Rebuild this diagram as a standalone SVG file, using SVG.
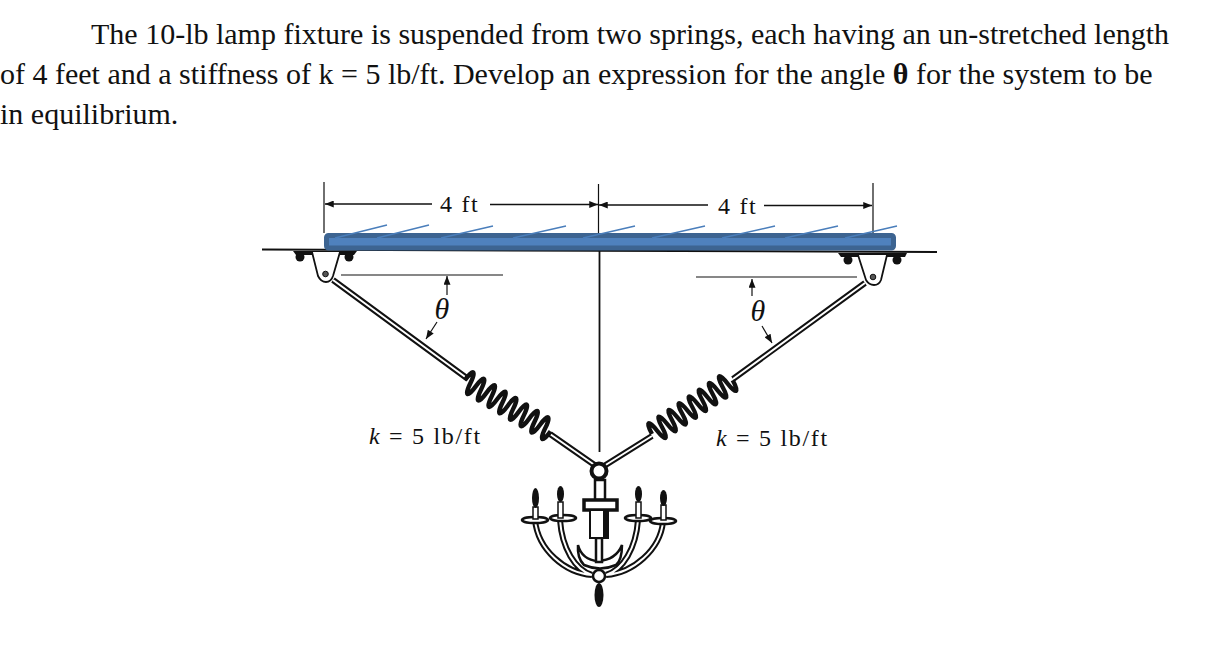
<svg xmlns="http://www.w3.org/2000/svg" xmlns:xlink="http://www.w3.org/1999/xlink" width="1210" height="646" viewBox="0 0 1210 646">
<style>
.p{font:30px "Liberation Serif",serif;fill:#111}
.l{font:24px "Liberation Serif",serif;fill:#111;letter-spacing:1.7px}
.t{font:italic 30px "Liberation Serif",serif;fill:#111}
.i{font-style:italic}
.k{stroke:#111;fill:none}
.h{stroke:#4a7ebb;stroke-width:1.5;fill:none}
.r{stroke:#111;stroke-width:6;fill:none}
.w{stroke:#fff;stroke-width:2;fill:none}
.s{stroke:#111;stroke-width:4.200;fill:none}
</style>
<defs>
<marker id="a" viewBox="0 0 10 8" refX="10" refY="4" markerWidth="11" markerHeight="7" markerUnits="userSpaceOnUse" orient="auto"><path d="M0 0L10 4L0 8z" fill="#111"/></marker>
<path id="sp" d="M0,0c1,-11 5,-11 6,0c1,11 5,11 6,0c1,-11 5,-11 6,0c1,11 5,11 6,0c1,-11 5,-11 6,0c1,11 5,11 6,0c1,-11 5,-11 6,0c1,11 5,11 6,0c1,-11 5,-11 6,0c1,11 5,11 6,0c1,-11 5,-11 6,0c1,11 5,11 6,0c1,-11 5,-11 6,0c1,11 5,11 6,0c1,-11 5,-11 6,0c1,11 5,11 6,0" class="s"/>
</defs>
<g id="statement">
<text class="p" x="91" y="44">The 10-lb lamp fixture is suspended from two springs, each having an un-stretched length</text>
<text class="p" x="0" y="84">of 4 feet and a stiffness of k = 5 lb/ft. Develop an expression for the angle <tspan font-weight="bold">θ</tspan> for the system to be</text>
<text class="p" x="0" y="124">in equilibrium.</text>
</g>
<g id="connectors">
<path class="k" stroke-width="2" d="M262 249.5L937 252"/>
<path class="k" stroke-width="1.2" d="M324 182V233M598.500 184V233M873 183V235"/>
<path class="k" stroke-width="1.8" d="M599.500 250V452"/>
<path class="k" stroke-width="1.4" marker-end="url(#a)" d="M432 204H325"/>
<path class="k" stroke-width="1.4" marker-end="url(#a)" d="M490 204.500H598"/>
<path class="k" stroke-width="1.4" marker-end="url(#a)" d="M708 205H599"/>
<path class="k" stroke-width="1.4" marker-end="url(#a)" d="M764 205.500H872"/>
<path class="k" stroke-width="1.2" d="M341 275H503M696 277H857"/>
<path class="k" stroke-width="1.2" marker-end="url(#a)" d="M447 295V276"/>
<path class="k" stroke-width="1.2" marker-end="url(#a)" d="M752 296V279"/>
<path class="k" stroke-width="1.2" marker-end="url(#a)" d="M437 322L426 339"/>
<path class="k" stroke-width="1.2" marker-end="url(#a)" d="M762 326L772 343"/>
<path class="r" d="M333 280L468 379M865 283L733 379M550 434L596 466M652 436L604 466"/>
<path class="w" d="M333 280L468 379M865 283L733 379M550 434L596 466M652 436L604 466"/>
<use xlink:href="#sp" href="#sp" transform="translate(465,380) rotate(31) scale(1.04,1.250)"/>
<use xlink:href="#sp" href="#sp" transform="translate(652,434) rotate(-33.700) scale(1.01,1.250)"/>
</g>
<g id="beam">
<rect x="326.500" y="235.500" width="567" height="12.500" rx="2" fill="#4f81bd" stroke="#3d6491" stroke-width="5"/>
<path class="h" d="M335 238L387 225M377 238L429 225M441 238L493 226M513 238L566 226M583 238L635 226M652 238L705 226M722 238L775 226M785 238L838 226M845 238L897 226"/>
</g>
<g id="left-support">
<path d="M293 251H357L354 255H296z" fill="#111"/>
<circle cx="300" cy="257" r="4.500" fill="#111"/><circle cx="349" cy="257" r="4.500" fill="#111"/>
<path d="M312 252L318 276Q321 282 326 282Q331 282 333 276L340 252" fill="#fff" stroke="#111" stroke-width="1.800"/>
<circle cx="325.500" cy="274" r="2.800" fill="#555" stroke="#111"/>
</g>
<g id="right-support">
<path d="M838 253H907L905 257H841z" fill="#111"/>
<circle cx="848" cy="260" r="4.500" fill="#111"/><circle cx="897" cy="260" r="4.500" fill="#111"/>
<path d="M858 255L866 280Q869 285 874 285Q879 285 881 280L887 255" fill="#fff" stroke="#111" stroke-width="1.800"/>
<circle cx="873" cy="277" r="2.800" fill="#555" stroke="#111"/>
</g>
<g id="lamp">
<path class="r" d="M535 520C538 550 565 573 592 575M560 520C562 548 575 570 592 575M663 522C660 550 633 573 606 575M638 520C636 548 623 570 606 575"/>
<path class="w" d="M535 520C538 550 565 573 592 575M560 520C562 548 575 570 592 575M663 522C660 550 633 573 606 575M638 520C636 548 623 570 606 575"/>
<path d="M578 545Q582 560 598 561Q616 560 622 545Q622 560 616 565Q600 572 584 565Q577 558 578 545z" fill="#fff" stroke="#111" stroke-width="2.500"/>
<path d="M595 480H605V500H595zM596 538H602V562H596z" fill="#fff" stroke="#111" stroke-width="2.500"/>
<rect x="584" y="500" width="33" height="10" fill="#fff" stroke="#111" stroke-width="3.500"/>
<path d="M590 510H608V538H590z" fill="#fff" stroke="#111" stroke-width="2"/>
<path d="M603 510H608V538H603z" fill="#111"/>
<g fill="#fff" stroke="#111" stroke-width="2.500">
<ellipse cx="535" cy="520" rx="13" ry="3"/><ellipse cx="563" cy="518" rx="13" ry="3"/><ellipse cx="638" cy="518" rx="13" ry="3"/><ellipse cx="663" cy="521" rx="13" ry="3"/>
</g>
<path d="M533 507H538V519H533zM558 502H563V518H558zM636 502H641V518H636zM661 505H666V520H661z" fill="#fff" stroke="#111" stroke-width="1.500"/>
<g fill="#111">
<ellipse cx="535.500" cy="498" rx="3.500" ry="10"/><ellipse cx="560.500" cy="494" rx="3.500" ry="8"/><ellipse cx="638.500" cy="494" rx="3.500" ry="8"/><ellipse cx="663.500" cy="498" rx="3.500" ry="8"/>
<ellipse cx="599" cy="595" rx="4.500" ry="12"/>
</g>
<circle cx="599" cy="471" r="7.500" fill="#fff" stroke="#111" stroke-width="4"/>
<circle cx="599" cy="576" r="6" fill="#fff" stroke="#111" stroke-width="2.500"/>
</g>
<g id="labels">
<text class="l" x="440" y="212">4 ft</text>
<text class="l" x="718" y="214">4 ft</text>
<text class="t" x="434.500" y="319">θ</text>
<text class="t" x="750.500" y="321">θ</text>
<text class="l" x="369" y="444"><tspan class="i">k</tspan> = 5 lb/ft</text>
<text class="l" x="716" y="446"><tspan class="i">k</tspan> = 5 lb/ft</text>
</g>
</svg>
